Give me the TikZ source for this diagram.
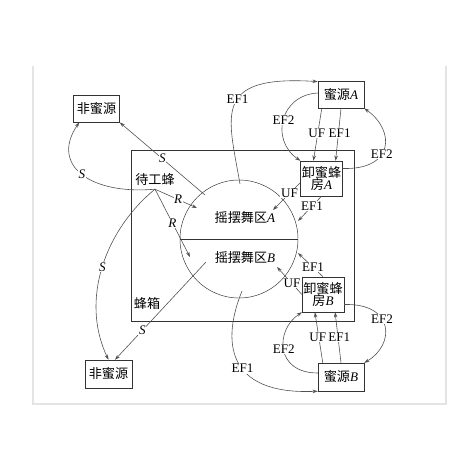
\documentclass[tikz,border=0pt]{standalone}
\usepackage{fontspec}
\setmainfont{Liberation Serif}
\newfontfamily\cjk{Noto Sans CJK SC}
\usepackage{xcolor}
\usepackage{tikz}
\usetikzlibrary{positioning, arrows.meta, calc}
\definecolor{linegray}{HTML}{505050}
\definecolor{boxgray}{HTML}{333333}
\definecolor{framegray}{HTML}{E4E4E4}

\tikzset{
  srcbox/.style={draw=boxgray, minimum width=1.38cm, minimum height=0.82cm, inner sep=1pt},
  combbox/.style={draw=boxgray, minimum width=1.22cm, minimum height=1.05cm, inner sep=1pt, align=center},
  flow/.style={draw=linegray, line width=0.5pt, -{Stealth[length=4.5pt,width=3pt]}},
  lbl/.style={fill=white, inner sep=0.5pt},
}

\begin{document}
\begin{tikzpicture}[x=0.03cm, y=-0.03cm, font=\fontsize{11.2}{12.5}\selectfont]
    \useasboundingbox (0,0) rectangle (474,474);
    \draw[framegray, line width=1pt] (33,66) -- (33,404) -- (446,404) -- (446,66);

    % hive and dance floor
    \node[draw=boxgray, minimum width=6.69cm, minimum height=5.13cm] (hive) at (242.5,235.5) {};
    \node (hivelbl) at (147,303) {\cjk 蜂箱};
    \node[circle, draw=boxgray, minimum size=3.54cm] (dance) at (239,239) {};
    \draw[boxgray] (dance.west) -- (dance.east);
    \node (za) at (245,218) {{\cjk 摇摆舞区}\textit{A}};
    \node (zb) at (245,258) {{\cjk 摇摆舞区}\textit{B}};
    \node (dg) at (155,179) {\cjk 待工蜂};

    % sources and unloading stations
    \node[srcbox] (ns1) at (96.5,108.5) {\cjk 非蜜源};
    \node[srcbox, minimum width=1.41cm, minimum height=0.84cm] (ns2) at (108.5,374) {\cjk 非蜜源};
    \node[srcbox] (mya) at (341,94.5) {{\cjk 蜜源}\textit{A}};
    \node[srcbox, minimum height=0.84cm] (myb) at (341,377) {{\cjk 蜜源}\textit{B}};
    \node[combbox] (xfa) at (321.5,178.5) {{\cjk 卸蜜蜂}\\[-2pt]{\cjk 房}\textit{A}};
    \node[combbox, minimum width=1.2cm] (xfb) at (323,294.5) {{\cjk 卸蜜蜂}\\[-2pt]{\cjk 房}\textit{B}};

    % points on the dance floor
    \coordinate (sA) at (205,195);
    \coordinate (sB) at (206,262);
    \coordinate (rA) at (197,208);
    \coordinate (rB) at (190,257);
    \coordinate (ufA) at (273,210);
    \coordinate (efA) at (298,221);
    \coordinate (efB) at (298,253);
    \coordinate (ufB) at (277,267);
    \coordinate (eA) at (240,184);
    \coordinate (eB) at (242,291);

    % left side
    \draw[flow] (dg.south) .. controls (90,195) and (50,165) .. ($(ns1.south west)+(6,0)$) node[lbl, pos=0.5] {\textit{S}};
    \draw[flow] (sA) -- (ns1.south east) node[lbl, pos=0.5] {\textit{S}};
    \draw[flow] (dg.south) -- (rA) node[lbl, pos=0.55] {\textit{R}};
    \draw[flow] (dg.south) -- (rB) node[lbl, pos=0.5] {\textit{R}};
    \draw[flow] (dg.south) .. controls (105,230) and (80,300) .. (ns2.north) node[lbl, pos=0.5] {\textit{S}};
    \draw[flow] (sB) -- ($(ns2.north)+(6.5,0)$) node[lbl, pos=0.7] {\textit{S}};

    % source A
    \draw[flow] (eA) .. controls (228,115) and (212,75) .. ($(mya.north west)+(0,1)$) node[lbl, pos=0.55] {EF1};
    \draw[flow] ($(mya.west)+(0,-1.5)$) .. controls (280,95) and (270,140) .. (xfa.north west) node[lbl, pos=0.5] {EF2};
    \draw[flow] ($(mya.south west)+(4,0)$) -- ($(xfa.north west)+(13,0)$) node[lbl, pos=0.47, xshift=-1pt] {UF};
    \draw[flow] (mya.south) -- ($(xfa.north east)+(-7,0)$) node[lbl, pos=0.47, xshift=1pt] {EF1};
    \draw[flow] ($(xfa.east)+(0,-10)$) .. controls (395,170) and (395,130) .. (mya.south east) node[lbl, pos=0.4] {EF2};
    \draw[flow] ($(xfa.west)+(0,4)$) -- (ufA) node[lbl, pos=0.4] {UF};
    \draw[flow] (xfa.south) -- (efA) node[lbl, pos=0.4] {EF1};

    % source B
    \draw[flow] (xfb.north) -- (efB) node[lbl, pos=0.4] {EF1};
    \draw[flow] (xfb.west) -- (ufB) node[lbl, pos=0.4] {UF};
    \draw[flow] ($(myb.north west)+(5,0)$) -- ($(xfb.south west)+(13,0)$) node[lbl, pos=0.5, xshift=-1pt] {UF};
    \draw[flow] (myb.north) -- ($(xfb.south east)+(-9,0)$) node[lbl, pos=0.5, xshift=1pt] {EF1};
    \draw[flow] ($(myb.west)+(0,-4)$) .. controls (275,373) and (275,330) .. (xfb.south west) node[lbl, pos=0.5] {EF2};
    \draw[flow] ($(xfb.east)+(0,10)$) .. controls (395,303) and (395,345) .. (myb.north east) node[lbl, pos=0.4] {EF2};
    \draw[flow] (eB) .. controls (222,340) and (225,395) .. (myb.south west) node[lbl, pos=0.57] {EF1};
\end{tikzpicture}
\end{document}
